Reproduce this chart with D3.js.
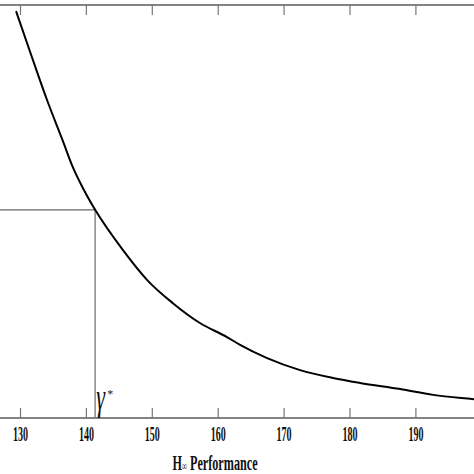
<!DOCTYPE html>
<html>
<head>
<meta charset="utf-8">
<script src="https://cdn.jsdelivr.net/npm/d3@7/dist/d3.min.js"></script>
<style>
  html, body { margin: 0; padding: 0; background: #fff; }
  svg { display: block; }
</style>
</head>
<body>
<svg id="chart" width="474" height="474"></svg>
<script>
// Data (y in arbitrary relative units, axis unlabelled)
const perfX = [129.4, 131.5, 134.1, 136.5, 138.0, 139.7, 141.4, 145.6, 149.3, 153.2, 157.3, 161.4, 163.4, 167.5, 172.5, 177.5, 181.6, 187.7, 192.7, 198.6, 200.5];
const perfY = [98.5, 88.8, 77.0, 67.1, 60.8, 55.2, 50.4, 40.7, 33.4, 27.8, 23.0, 19.6, 17.7, 14.5, 11.6, 9.7, 8.5, 7.0, 5.6, 4.6, 4.3];
const xTicks = [130, 140, 150, 160, 170, 180, 190, 200];
const gammaStar = { x: 141.4, y: 50.4 };

const W = 474, H = 474;
const svg = d3.select("#chart");

const x = d3.scaleLinear().domain([130, 200]).range([20, 481.3]);
const y = d3.scaleLinear().domain([0, 100]).range([418, 5]);

const axisColor = "#5a5a5a";

// Frame lines (top and bottom axes span full width)
svg.append("line").attr("x1", 0).attr("x2", W).attr("y1", y(0)).attr("y2", y(0))
  .attr("stroke", axisColor).attr("stroke-width", 1.6);
svg.append("line").attr("x1", 0).attr("x2", W).attr("y1", y(100)).attr("y2", y(100))
  .attr("stroke", axisColor).attr("stroke-width", 1.6);

// Bottom axis (ticks pointing inward)
const gx = svg.append("g").attr("transform", `translate(0,${y(0)})`)
  .call(d3.axisBottom(x).tickValues(xTicks).tickSizeInner(-10).tickSizeOuter(0).tickPadding(9).tickFormat(d3.format("d")));
gx.select(".domain").remove();
gx.selectAll(".tick line").attr("stroke", "#777").attr("stroke-width", 1.2);
gx.selectAll(".tick text")
  .attr("fill", "#111")
  .style("font-family", "'Liberation Serif', 'DejaVu Serif', serif")
  .style("font-weight", "bold")
  .style("font-size", "20px")
  .attr("transform", "scale(0.5,1)");

// Top axis (ticks pointing inward, no labels)
const gt = svg.append("g").attr("transform", `translate(0,${y(100)})`)
  .call(d3.axisTop(x).tickValues(xTicks).tickSizeInner(-10).tickSizeOuter(0).tickFormat(""));
gt.select(".domain").remove();
gt.selectAll(".tick line").attr("stroke", "#777").attr("stroke-width", 1.2);

// Reference lines for gamma*
svg.append("line")
  .attr("x1", 0).attr("x2", x(gammaStar.x))
  .attr("y1", y(gammaStar.y)).attr("y2", y(gammaStar.y))
  .attr("stroke", "#666").attr("stroke-width", 1.3);
svg.append("line")
  .attr("x1", x(gammaStar.x)).attr("x2", x(gammaStar.x))
  .attr("y1", y(gammaStar.y)).attr("y2", y(0))
  .attr("stroke", "#777").attr("stroke-width", 1.3);

// Curve
const pts = perfX.map((v, i) => [v, perfY[i]]);
svg.append("path")
  .datum(pts)
  .attr("fill", "none")
  .attr("stroke", "#000")
  .attr("stroke-width", 2)
  .attr("d", d3.line().x(d => x(d[0])).y(d => y(d[1])).curve(d3.curveMonotoneX));

// gamma* label
svg.append("text")
  .attr("transform", `translate(${x(gammaStar.x) + 1},410) scale(0.62,1.05)`)
  .style("font-family", "'Liberation Serif', 'DejaVu Serif', serif")
  .style("font-style", "italic")
  .style("font-size", "36px")
  .attr("fill", "#111")
  .text("\u03B3");
svg.append("text")
  .attr("x", x(gammaStar.x) + 12)
  .attr("y", 398)
  .style("font-family", "'Liberation Serif', 'DejaVu Serif', serif")
  .style("font-size", "12px")
  .attr("fill", "#222")
  .text("*");

// X axis title
const t = svg.append("text")
  .attr("transform", `translate(215,470) scale(0.58,1)`)
  .attr("text-anchor", "middle")
  .style("font-family", "'Liberation Serif', 'DejaVu Serif', serif")
  .style("font-weight", "bold")
  .style("font-size", "21px")
  .attr("fill", "#111");
t.append("tspan").text("H");
t.append("tspan").style("font-size", "12px").text("\u221E");
t.append("tspan").text(" Performance");
</script>
</body>
</html>
